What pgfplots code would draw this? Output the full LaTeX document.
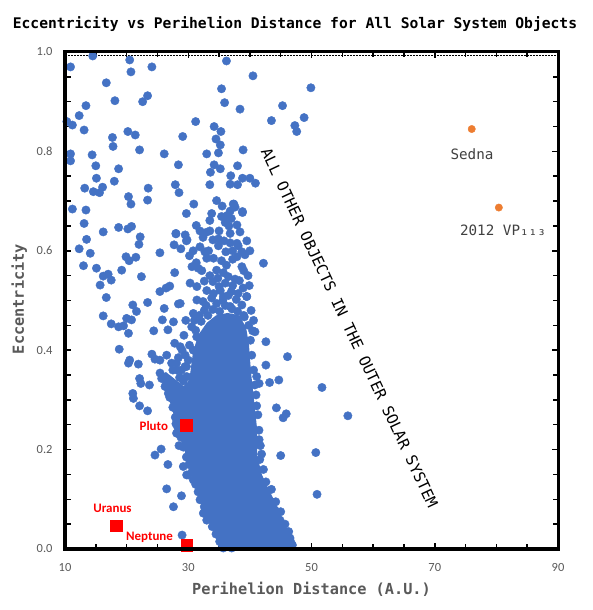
\documentclass[border=0pt]{standalone}
\usepackage{pgfplots}
\pgfplotsset{compat=1.18}
\usepackage{fontspec}
\usetikzlibrary{calc}
\newfontfamily\carlito{Carlito}
\newfontfamily\mono{DejaVu Sans Mono}
\definecolor{dotblue}{HTML}{4472C4}
\definecolor{dotorange}{HTML}{ED7D31}
\definecolor{lblgray}{HTML}{595959}
\definecolor{txtgray}{HTML}{404040}
\begin{document}
\begin{tikzpicture}
\begin{axis}[
  name=ax,
  scale only axis, width=493bp, height=497bp,
  xmin=10, xmax=90, ymin=0, ymax=1,
  xtick={10,30,50,70,90}, xticklabels={10,30,50,70,90},
  ytick={0,0.2,0.4,0.6,0.8,1}, yticklabels={0.0,0.2,0.4,0.6,0.8,1.0},
  minor x tick num=3, minor y tick num=3,
  tick align=inside,
  major tick style={line width=1.5bp, black}, major tick length=6bp,
  minor tick style={line width=1.5bp, black}, minor tick length=5.5bp,
  ticklabel style={font=\carlito\fontsize{12.5}{15}\selectfont, text=lblgray},
  xticklabel style={yshift=-10.5bp},
  yticklabel style={xshift=-9bp},
]
% dense core of the distribution
\addplot[fill=dotblue, draw=none] coordinates {
(25.42,0.350) (26.39,0.356) (28.01,0.340) (29.64,0.324) (30.28,0.350) (30.77,0.396)
(31.6,0.430) (33.0,0.455) (34.5,0.470) (36.4,0.475) (38.3,0.470) (39.4,0.445)
(39.86,0.410) (40.18,0.356) (40.67,0.300) (41.16,0.243) (41.16,0.189) (41.97,0.149)
(43.27,0.115) (44.56,0.082) (45.54,0.054) (46.35,0.028) (46.80,0.008) (46.80,-0.02)
(35.48,-0.02) (34.34,0.028) (33.20,0.058) (32.23,0.089) (31.26,0.123) (30.28,0.159)
(29.47,0.195) (28.50,0.229) (27.85,0.260) (27.20,0.290) (26.23,0.316)
} -- cycle;
% individual objects
\addplot[only marks, mark=*, mark size=4.2bp, color=dotblue, mark options={draw=dotblue, fill=dotblue}] table {
x y
10.9 0.970
14.5 0.992
20.5 0.984
20.7 0.960
24.1 0.970
36.2 0.982
40.5 0.952
16.7 0.938
35.4 0.926
23.4 0.912
22.6 0.900
18.1 0.902
35.9 0.898
38.4 0.885
13.4 0.892
12.3 0.872
10.3 0.860
11.2 0.853
13.1 0.843
31.2 0.860
43.5 0.862
34.2 0.850
35.3 0.840
20.2 0.840
21.4 0.833
17.7 0.828
17.8 0.810
29.1 0.830
34.5 0.825
35.2 0.813
22.1 0.803
26.1 0.795
33.0 0.795
34.9 0.797
10.9 0.795
10.9 0.781
14.4 0.793
28.4 0.773
15.0 0.771
18.7 0.765
34.2 0.773
35.2 0.765
33.6 0.758
38.0 0.771
36.9 0.751
38.8 0.746
40.0 0.746
40.9 0.736
36.8 0.734
38.0 0.733
33.5 0.733
15.1 0.746
18.0 0.740
16.1 0.728
14.6 0.719
15.6 0.717
13.2 0.726
27.9 0.733
28.5 0.717
23.5 0.726
23.4 0.702
20.3 0.709
20.7 0.694
34.6 0.701
30.9 0.694
11.2 0.684
13.4 0.682
29.7 0.675
37.4 0.694
38.8 0.679
13.1 0.655
16.2 0.638
18.7 0.647
20.2 0.644
20.8 0.649
31.3 0.651
33.5 0.661
13.5 0.623
12.3 0.604
14.1 0.595
13.0 0.570
15.1 0.565
22.2 0.628
22.0 0.613
25.4 0.596
19.9 0.588
20.4 0.580
21.5 0.587
28.0 0.635
29.5 0.632
29.8 0.622
27.7 0.612
28.8 0.604
19.2 0.561
16.2 0.549
17.0 0.553
17.5 0.541
15.7 0.531
22.4 0.548
27.8 0.556
25.4 0.518
26.4 0.525
27.0 0.529
16.7 0.506
21.0 0.491
23.4 0.496
26.1 0.484
28.4 0.493
49.9 0.928
45.3 0.892
48.8 0.868
47.3 0.852
47.6 0.840
38.9 0.803
42.2 0.575
42.6 0.417
46.1 0.387
42.6 0.370
44.7 0.340
43.2 0.335
41.5 0.333
51.7 0.325
44.3 0.284
45.9 0.272
45.4 0.264
55.9 0.268
41.1 0.288
45.0 0.188
50.7 0.194
50.9 0.110
41.7 0.208
41.9 0.191
41.1 0.347
37.3 0.694
37.6 0.688
38.8 0.677
35.4 0.669
36.3 0.671
37.0 0.665
36.0 0.657
37.9 0.652
28.0 0.634
29.7 0.620
32.9 0.637
33.5 0.640
32.4 0.627
34.0 0.622
34.9 0.624
36.8 0.635
38.4 0.638
36.8 0.616
37.9 0.615
32.7 0.598
31.9 0.608
36.1 0.598
38.7 0.598
40.0 0.600
37.9 0.588
39.2 0.592
31.3 0.576
30.6 0.568
31.6 0.565
33.0 0.585
34.1 0.585
35.4 0.580
36.2 0.571
37.2 0.583
38.7 0.568
39.7 0.550
34.6 0.561
35.7 0.556
36.5 0.548
37.6 0.543
32.6 0.539
34.0 0.538
35.0 0.528
30.3 0.535
31.4 0.528
34.1 0.514
35.7 0.508
37.0 0.518
38.1 0.514
39.5 0.508
32.4 0.498
34.6 0.494
36.8 0.488
38.7 0.491
28.7 0.494
31.4 0.501
16.2 0.469
17.5 0.453
18.7 0.447
19.5 0.449
20.3 0.434
20.0 0.464
20.8 0.461
21.6 0.478
25.8 0.461
27.6 0.457
26.7 0.441
24.4 0.439
27.8 0.414
28.7 0.407
18.8 0.402
20.5 0.380
20.3 0.374
21.9 0.372
24.1 0.392
24.6 0.382
25.4 0.380
26.5 0.390
27.3 0.374
28.1 0.374
22.1 0.343
22.3 0.333
23.7 0.330
21.0 0.313
21.1 0.303
22.1 0.288
23.4 0.278
24.6 0.189
25.6 0.201
26.7 0.170
28.0 0.252
28.1 0.233
28.5 0.208
26.5 0.121
28.9 0.107
27.6 0.085
29.0 0.028
29.2 0.166
30.0 0.149
30.3 0.172
30.7 0.301
31.1 0.333
29.7 0.367
30.82 0.474
30.56 0.447
31.37 0.427
30.82 0.400
31.91 0.384
32.45 0.367
29.47 0.367
29.74 0.347
30.0 0.327
25.42 0.354
25.69 0.343
26.23 0.327
26.77 0.313
39.48 0.508
40.45 0.439
40.83 0.437
39.10 0.467
41.48 0.239
43.54 0.095
44.08 0.078
44.89 0.058
45.42 0.038
46.51 0.022
46.90 0.008
29.74 0.149
30.82 0.139
32.18 0.135
31.91 0.099
33.0 0.085
33.0 0.058
33.8 0.065
32.45 0.072
34.62 0.032
35.69 0.002
37.05 0.002
31.2 0.440
32.1 0.458
33.2 0.470
34.0 0.482
35.1 0.478
36.0 0.490
37.1 0.483
38.0 0.478
39.0 0.470
39.8 0.450
32.6 0.480
35.6 0.500
33.8 0.505
37.8 0.502
36.5 0.510
30.2 0.410
30.0 0.380
38.9 0.525
35.2 0.520
33.0 0.520
40.1 0.420
40.3 0.390
40.6 0.360
40.8 0.330
41.0 0.310
41.3 0.270
41.5 0.220
41.6 0.180
42.2 0.160
42.6 0.135
43.5 0.120
44.2 0.095
45.0 0.075
45.7 0.050
46.3 0.035
46.6 0.015
25.8 0.345
26.6 0.330
27.0 0.305
27.5 0.285
27.9 0.265
28.3 0.245
28.8 0.225
29.2 0.205
29.7 0.185
30.1 0.170
30.6 0.155
31.2 0.130
31.6 0.115
32.1 0.100
32.6 0.085
33.3 0.065
33.9 0.045
34.5 0.030
35.1 0.015
35.8 0.005
28.6 0.345
29.2 0.338
31.0 0.460
31.8 0.470
32.9 0.490
33.5 0.550
34.8 0.545
36.0 0.535
37.2 0.530
38.3 0.540
39.0 0.560
32.2 0.560
33.3 0.600
34.9 0.610
35.8 0.620
36.6 0.650
35.0 0.640
37.2 0.600
38.1 0.610
39.5 0.620
33.8 0.675
36.8 0.680
35.5 0.690
31.9 0.640
30.8 0.600
30.2 0.590
29.6 0.460
29.3 0.430
29.0 0.400
28.2 0.360
27.5 0.360
40.2 0.480
40.6 0.460
39.9 0.530
28.9 0.360
29.5 0.390
28.4 0.385
};
% planets / Pluto
\addplot[only marks, mark=square*, mark size=5.8bp, color=red, mark options={draw=red, fill=red}] table {
x y
29.66 0.249
18.28 0.047
29.74 0.008
};
% Sedna and 2012 VP113
\addplot[only marks, mark=*, mark size=3.7bp, color=dotorange, mark options={draw=dotorange, fill=dotorange}] table {
x y
76.0 0.845
80.4 0.687
};
\node[font=\carlito\bfseries\fontsize{13}{15}\selectfont, text=red, inner sep=0] at (axis cs:24.41,0.247) {Pluto};
\node[font=\carlito\bfseries\fontsize{13}{15}\selectfont, text=red, inner sep=0] at (axis cs:17.71,0.082) {Uranus};
\node[font=\carlito\bfseries\fontsize{13}{15}\selectfont, text=red, inner sep=0] at (axis cs:23.71,0.023) {Neptune};
\node[font=\mono\fontsize{14.3}{16}\selectfont, text=txtgray, inner sep=0] at (axis cs:76.05,0.795) {Sedna};
\node[font=\mono\fontsize{14.3}{16}\selectfont, text=txtgray, inner sep=0] at (axis cs:81.07,0.642) {2012 VP₁₁₃};
\node[font=\mono\fontsize{15.3}{17}\selectfont, text=black, inner sep=0, rotate=-64.8] at (axis cs:56.17,0.445) {ALL OTHER OBJECTS IN THE OUTER SOLAR SYSTEM};
\draw[black, line width=1bp, dash pattern=on 1.5bp off 1.5bp] ([yshift=-4bp]rel axis cs:0,1) -- ([yshift=-4bp]rel axis cs:1,1);
\coordinate (ll) at (rel axis cs:0,0);
\coordinate (ur) at (rel axis cs:1,1);
\end{axis}
\draw[black, line width=3bp] (ll) rectangle (ur);
\node[font=\mono\bfseries\fontsize{14.7}{17}\selectfont, text=black, anchor=base] at ($(ll|-ur)+(230bp,23bp)$) {Eccentricity vs Perihelion Distance for All Solar System Objects};
\node[font=\mono\bfseries\fontsize{15.3}{17}\selectfont, text=lblgray, anchor=base] at ($(ll)!0.5!(ll-|ur)+(0,-45bp)$) {Perihelion Distance (A.U.)};
\node[font=\mono\bfseries\fontsize{15.3}{17}\selectfont, text=lblgray, anchor=base, rotate=90] at ($(ll)+(-41bp,250bp)$) {Eccentricity};
\pgfresetboundingbox
\path[use as bounding box] ([xshift=-65bp,yshift=-61bp]ll) rectangle ([xshift=35bp,yshift=52bp]ur);
\end{tikzpicture}
\end{document}
